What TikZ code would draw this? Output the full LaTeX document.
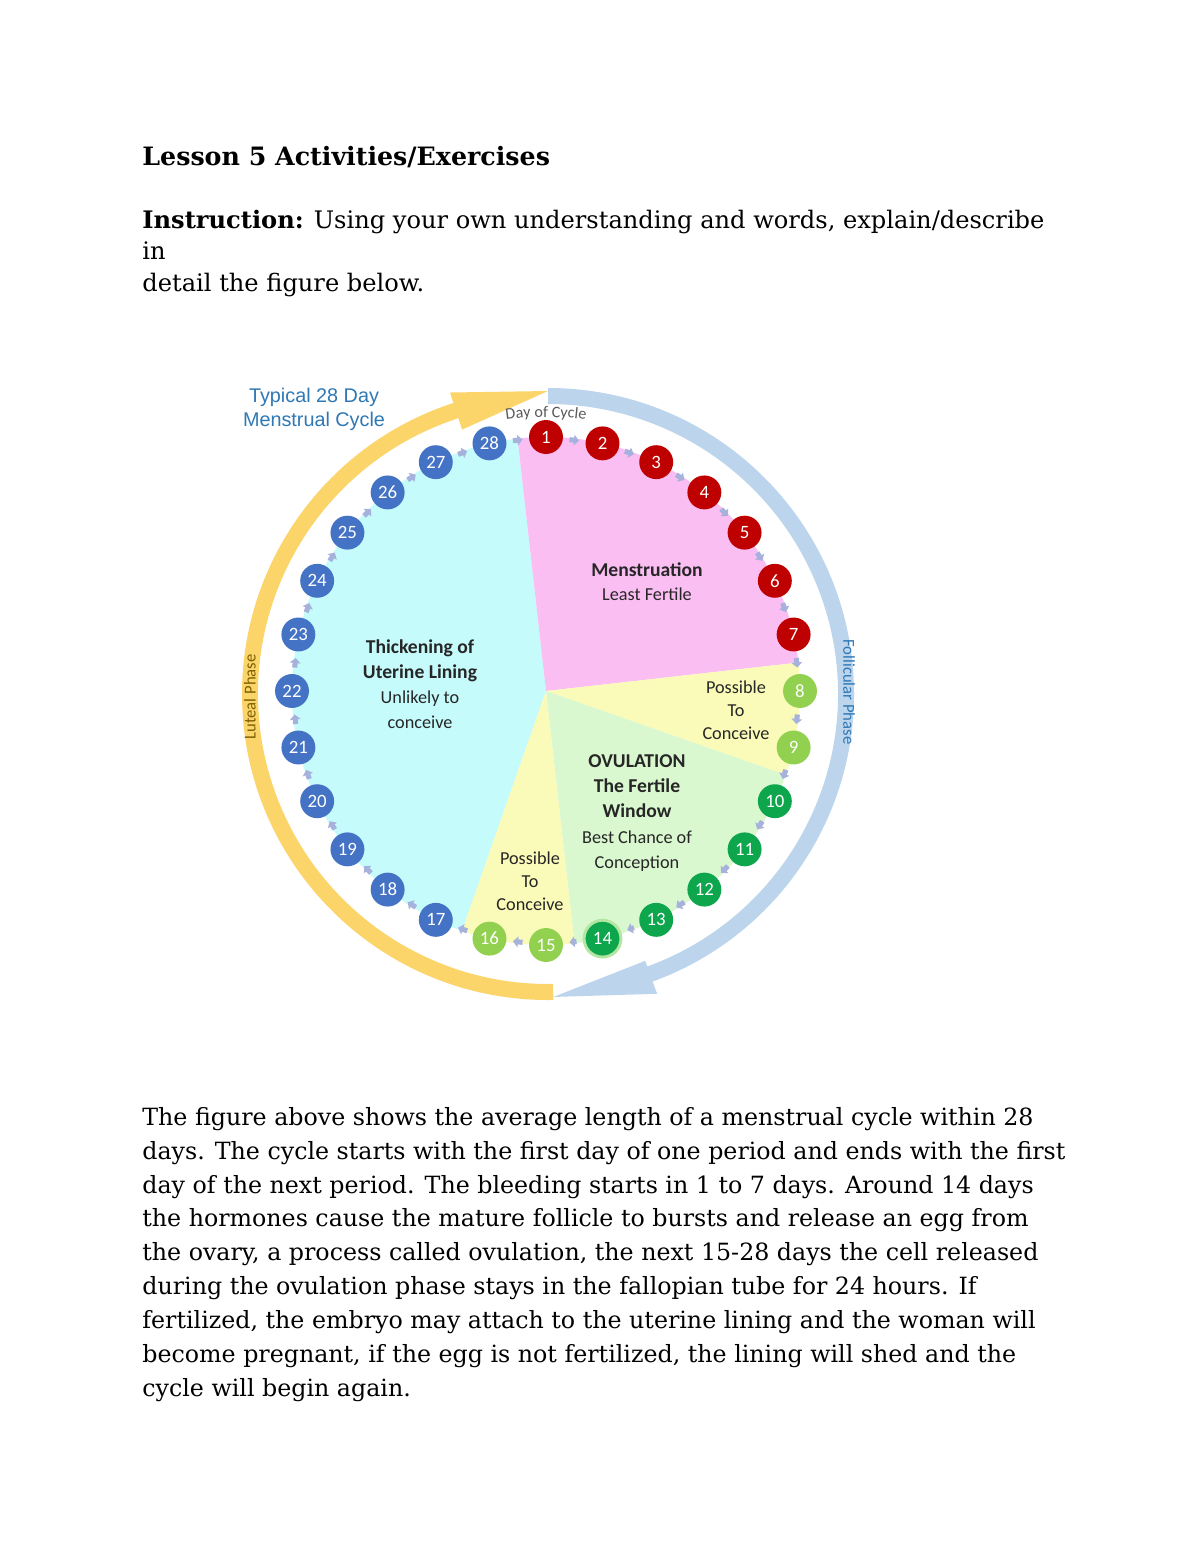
\documentclass[tikz,border=0pt]{standalone}
\usepackage{fontspec}
\setmainfont{DejaVu Serif}
\newfontfamily\calib{Carlito}
\newfontfamily\arialf{Liberation Sans}
\usetikzlibrary{calc,arrows.meta,decorations.text}
\definecolor{dred}{HTML}{BE0000}
\definecolor{lgreen}{HTML}{92D050}
\definecolor{dgreen}{HTML}{0EA64C}
\definecolor{dblue}{HTML}{4472C4}
\definecolor{pinkc}{HTML}{FBBEF3}
\definecolor{cyanc}{HTML}{C6FBFC}
\definecolor{yelc}{HTML}{FAFAB9}
\definecolor{grnc}{HTML}{DAF8D0}
\definecolor{arrc}{HTML}{A7B2DC}
\definecolor{luteal}{HTML}{FBD46A}
\definecolor{follic}{HTML}{BCD5EC}
\definecolor{titleblue}{HTML}{2F78B6}
\definecolor{lutealtxt}{HTML}{7F6000}
\definecolor{halo}{HTML}{B2E6A2}
\definecolor{daygray}{HTML}{595959}
\newcommand\setfs[2]{\fontsize{#1}{#2}\selectfont}
\tikzset{
  day/.style={circle, minimum size=17.3pt, inner sep=0pt, text=white, font=\calib\setfs{9.6}{10}},
  dayarrow/.style={draw=arrc, line width=2.6pt, -{Triangle[width=5.4pt,length=2.6pt]}, shorten <=3.2pt, shorten >=3.2pt},
  body/.style={anchor=base west, inner sep=0pt, font=\setfs{12.1}{15}},
  seclab/.style={align=center, inner sep=0pt, text=black!85, font=\calib\setfs{9.3}{12.4}},
  bandtxt/.style={inner sep=0pt, font=\calib\setfs{8.5}{9}},
}
\begin{document}
\begin{tikzpicture}[x=0.51pt, y=-0.51pt]
\useasboundingbox (0,0) rectangle (1200,1553);
\fill[white] (0,0) rectangle (1200,1553);

% ---------- text ----------
\node[body, font=\bfseries\setfs{12.9}{16}] (head) at (142,166) {Lesson 5 Activities/Exercises};
\node[body, font=\setfs{12.3}{15}] (ins1) at (142,228) {\textbf{Instruction:} Using your own understanding and words, explain/describe};
\node[body, font=\setfs{12.3}{15}] (ins2) at (142,259) {in};
\node[body, font=\setfs{12.3}{15}] (ins3) at (142,291) {detail the figure below.};

\node[body] (t1) at (142,1125) {The figure above shows the average length of a menstrual cycle within 28};
\node[body] (t2) at (142,1159) {days. The cycle starts with the first day of one period and ends with the first};
\node[body] (t3) at (142,1193) {day of the next period. The bleeding starts in 1 to 7 days. Around 14 days};
\node[body] (t4) at (142,1226) {the hormones cause the mature follicle to bursts and release an egg from};
\node[body] (t5) at (142,1260) {the ovary, a process called ovulation, the next 15-28 days the cell released};
\node[body] (t6) at (142,1294) {during the ovulation phase stays in the fallopian tube for 24 hours. If};
\node[body] (t7) at (142,1328) {fertilized, the embryo may attach to the uterine lining and the woman will};
\node[body] (t8) at (142,1362) {become pregnant, if the egg is not fertilized, the lining will shed and the};
\node[body] (t9) at (142,1396) {cycle will begin again.};

% ---------- diagram ----------
\coordinate (C) at (546,691);
\coordinate (O) at (548,694);

% sectors
\fill[cyanc] (C) -- ($(C)+(109.29:254)$) arc[start angle=109.29, end angle=263.57, radius=254] -- cycle;
\fill[pinkc] (C) -- ($(C)+(-96.43:254)$) arc[start angle=-96.43, end angle=-6.43, radius=254] -- cycle;
\fill[yelc] (C) -- ($(C)+(-6.43:254)$) arc[start angle=-6.43, end angle=19.29, radius=254] -- cycle;
\fill[grnc] (C) -- ($(C)+(19.29:254)$) arc[start angle=19.29, end angle=83.57, radius=254] -- cycle;
\fill[yelc] (C) -- ($(C)+(83.57:254)$) arc[start angle=83.57, end angle=109.29, radius=254] -- cycle;

% outer phase arrows
\fill[luteal] ($(O)+(89:306)$) arc[start angle=89, end angle=252, radius=306]
  -- ($(O)+(252:317)$) -- ($(O)+(270:303)$) -- ($(O)+(252:278)$) -- ($(O)+(252:290)$)
  arc[start angle=252, end angle=89, radius=290] -- cycle;
\fill[follic] ($(O)+(-90:306)$) arc[start angle=-90, end angle=70, radius=306]
  -- ($(O)+(70:319)$) -- ($(O)+(89:303)$) -- ($(O)+(70:284)$) -- ($(O)+(70:290)$)
  arc[start angle=70, end angle=-90, radius=290] -- cycle;

\node[bandtxt, text=lutealtxt, rotate=90] (lut) at (250,697) {Luteal Phase};
\node[bandtxt, text=titleblue, rotate=-90] (fol) at (849,692) {Follicular Phase};

% title
\node[align=center, inner sep=0pt, text=titleblue, font=\arialf\setfs{10.1}{12.2}] (title) at (314,409) {Typical 28 Day\\Menstrual Cycle};

% day of cycle
\path[decorate, decoration={text along path, text align=center,
  text={|\calib\setfs{8.2}{9}\color{daygray}|Day of Cycle}}]
  ($(C)+(-115:274)$) arc[start angle=-115, end angle=-65, radius=274];

% sector labels
\node[seclab] (men) at (647,582) {\textbf{\setfs{10}{12.4}Menstruation}\\Least Fertile};
\node[seclab, font=\calib\setfs{9.3}{12.7}] (thick) at (420,684) {\textbf{\setfs{10}{12.7}Thickening of}\\\textbf{\setfs{10}{12.7}Uterine Lining}\\Unlikely to\\conceive};
\node[seclab, font=\calib\setfs{9.3}{11.8}] (pos1) at (736,710) {Possible\\To\\Conceive};
\node[seclab, font=\calib\setfs{9.3}{12.9}] (ovu) at (637,813) {\textbf{\setfs{10}{13.2}OVULATION}\\\textbf{\setfs{10}{13.2}The Fertile}\\\textbf{\setfs{10}{13.2}Window}\\Best Chance of\\Conception};
\node[seclab, font=\calib\setfs{9.3}{11.8}] (pos2) at (530,881) {Possible\\To\\Conceive};

% day nodes
\foreach \k in {1,...,28}{
  \pgfmathsetmacro\ang{(\k-1)*360/28-90}
  \coordinate (p\k) at ($(C)+(\ang:254)$);
}
\foreach \k in {1,...,7} \node[day, fill=dred] (d\k) at (p\k) {\k};
\foreach \k in {8,9,15,16} \node[day, fill=lgreen] (d\k) at (p\k) {\k};
\foreach \k in {10,...,13} \node[day, fill=dgreen] (d\k) at (p\k) {\k};
\node[day, fill=dgreen, draw=halo, line width=1.5pt, minimum size=18.8pt] (d14) at (p14) {14};
\foreach \k in {17,...,28} \node[day, fill=dblue] (d\k) at (p\k) {\k};

% connectors between days
\foreach \k in {1,...,28}{
  \pgfmathtruncatemacro\n{mod(\k,28)+1}
  \draw[dayarrow] (d\k) -- (d\n);
}
\end{tikzpicture}
\end{document}
